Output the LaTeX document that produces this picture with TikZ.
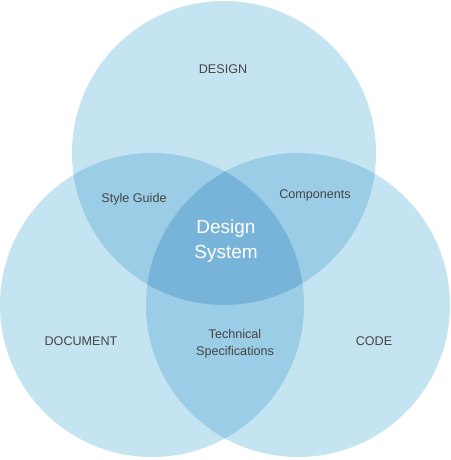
\documentclass[tikz,border=0pt]{standalone}
\usepackage{fontspec}
\setmainfont{Liberation Sans}
\definecolor{cOne}{HTML}{C5E4F1}
\definecolor{cTwo}{HTML}{9BCDE6}
\definecolor{cThree}{HTML}{78B4D9}
\definecolor{txt}{HTML}{444444}
\begin{document}
\begin{tikzpicture}[x=1pt,y=-1pt,
  lbl/.style={text=txt,font=\fontsize{12.6}{17}\selectfont,align=center,inner sep=0pt},
  big/.style={text=white,font=\fontsize{19}{25}\selectfont,align=center,inner sep=0pt}]
\useasboundingbox (0,0) rectangle (450,460);
\def\R{152}
\coordinate (T) at (224,153);
\coordinate (L) at (152,305);
\coordinate (Rc) at (298,305);
% single circles
\fill[cOne] (T) circle (\R);
\fill[cOne] (L) circle (\R);
\fill[cOne] (Rc) circle (\R);
% pairwise overlaps
\begin{scope}
  \clip (T) circle (\R);
  \fill[cTwo] (L) circle (\R);
  \fill[cTwo] (Rc) circle (\R);
\end{scope}
\begin{scope}
  \clip (L) circle (\R);
  \fill[cTwo] (Rc) circle (\R);
\end{scope}
% triple overlap
\begin{scope}
  \clip (T) circle (\R);
  \clip (L) circle (\R);
  \fill[cThree] (Rc) circle (\R);
\end{scope}
% labels
\node[lbl] (design) at (223,69) {DESIGN};
\node[lbl] (document) at (81,341) {DOCUMENT};
\node[lbl] (code) at (374,341) {CODE};
\node[lbl] (style) at (134,199) {Style Guide};
\node[lbl] (comp) at (315,195) {Components};
\node[lbl] (tech) at (235,343.5) {Technical\\Specifications};
\node[big] (ds) at (226,241) {Design\\System};
\end{tikzpicture}
\end{document}
